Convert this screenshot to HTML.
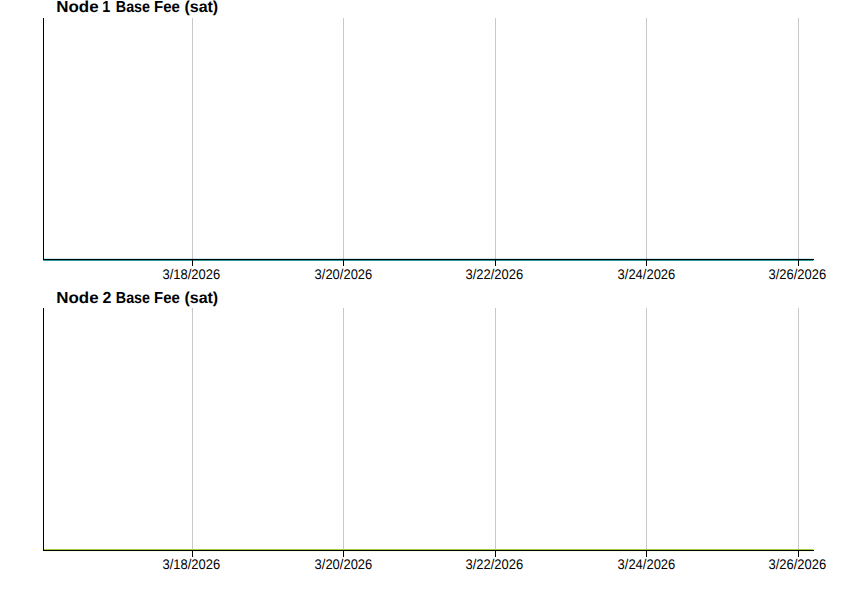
<!DOCTYPE html>
<html><head><meta charset="utf-8">
<style>
html,body{margin:0;padding:0;background:#fff;}
body{width:860px;height:600px;overflow:hidden;position:relative;font-family:"Liberation Sans",sans-serif;}
svg{position:absolute;left:0;top:0;display:block;}
.t{text-rendering:geometricPrecision;font-family:"Liberation Sans",sans-serif;font-weight:bold;font-size:16px;fill:#000;}
.l{text-rendering:geometricPrecision;font-family:"Liberation Sans",sans-serif;font-size:14px;fill:#000;}
</style></head><body>
<svg width="860" height="600" viewBox="0 0 860 600">
<g id="c1">
<text class="t" x="56.3" y="12" textLength="42.3" lengthAdjust="spacingAndGlyphs">Node</text>
<text class="t" x="102.3" y="12" textLength="8" lengthAdjust="spacingAndGlyphs">1</text>
<text class="t" x="115.8" y="12" textLength="34.2" lengthAdjust="spacingAndGlyphs">Base</text>
<text class="t" x="154.0" y="12" textLength="25.8" lengthAdjust="spacingAndGlyphs">Fee</text>
<text class="t" x="184.4" y="12" textLength="33.8" lengthAdjust="spacingAndGlyphs">(sat)</text>
<g fill="#c8c8c8" shape-rendering="crispEdges"><rect x="192" y="18" width="1" height="241"/><rect x="343" y="18" width="1" height="241"/><rect x="495" y="18" width="1" height="241"/><rect x="646" y="18" width="1" height="241"/><rect x="798" y="18" width="1" height="241"/></g>
<rect x="43.2" y="258.82" width="770.3" height="2.02" fill="#008b8b"/>
<g fill="#000" shape-rendering="crispEdges"><rect x="43" y="18" width="1" height="242"/><rect x="43" y="259" width="771" height="1"/><rect x="192" y="259" width="1" height="7"/><rect x="343" y="259" width="1" height="7"/><rect x="495" y="259" width="1" height="7"/><rect x="646" y="259" width="1" height="7"/><rect x="798" y="259" width="1" height="7"/></g>
<text class="l" x="162.5" y="279" textLength="57.7" lengthAdjust="spacingAndGlyphs">3/18/2026</text>
<text class="l" x="314.6" y="279" textLength="57.7" lengthAdjust="spacingAndGlyphs">3/20/2026</text>
<text class="l" x="465.5" y="279" textLength="57.7" lengthAdjust="spacingAndGlyphs">3/22/2026</text>
<text class="l" x="617.6" y="279" textLength="57.7" lengthAdjust="spacingAndGlyphs">3/24/2026</text>
<text class="l" x="768.5" y="279" textLength="57.7" lengthAdjust="spacingAndGlyphs">3/26/2026</text>
</g>
<g id="c2">
<text class="t" x="56.3" y="303" textLength="42.3" lengthAdjust="spacingAndGlyphs">Node</text>
<text class="t" x="102.4" y="303" textLength="8.9" lengthAdjust="spacingAndGlyphs">2</text>
<text class="t" x="115.8" y="303" textLength="34.2" lengthAdjust="spacingAndGlyphs">Base</text>
<text class="t" x="154.0" y="303" textLength="25.8" lengthAdjust="spacingAndGlyphs">Fee</text>
<text class="t" x="184.4" y="303" textLength="33.8" lengthAdjust="spacingAndGlyphs">(sat)</text>
<g fill="#c8c8c8" shape-rendering="crispEdges"><rect x="192" y="308" width="1" height="242"/><rect x="343" y="308" width="1" height="242"/><rect x="495" y="308" width="1" height="242"/><rect x="646" y="308" width="1" height="242"/><rect x="798" y="308" width="1" height="242"/></g>
<rect x="43.2" y="549.08" width="770.3" height="2.02" fill="#9acd32"/>
<g fill="#000" shape-rendering="crispEdges"><rect x="43" y="308" width="1" height="243"/><rect x="43" y="550" width="771" height="1"/><rect x="192" y="550" width="1" height="7"/><rect x="343" y="550" width="1" height="7"/><rect x="495" y="550" width="1" height="7"/><rect x="646" y="550" width="1" height="7"/><rect x="798" y="550" width="1" height="7"/></g>
<text class="l" x="162.5" y="569" textLength="57.7" lengthAdjust="spacingAndGlyphs">3/18/2026</text>
<text class="l" x="314.6" y="569" textLength="57.7" lengthAdjust="spacingAndGlyphs">3/20/2026</text>
<text class="l" x="465.5" y="569" textLength="57.7" lengthAdjust="spacingAndGlyphs">3/22/2026</text>
<text class="l" x="617.6" y="569" textLength="57.7" lengthAdjust="spacingAndGlyphs">3/24/2026</text>
<text class="l" x="768.5" y="569" textLength="57.7" lengthAdjust="spacingAndGlyphs">3/26/2026</text>
</g>
</svg>
</body></html>
